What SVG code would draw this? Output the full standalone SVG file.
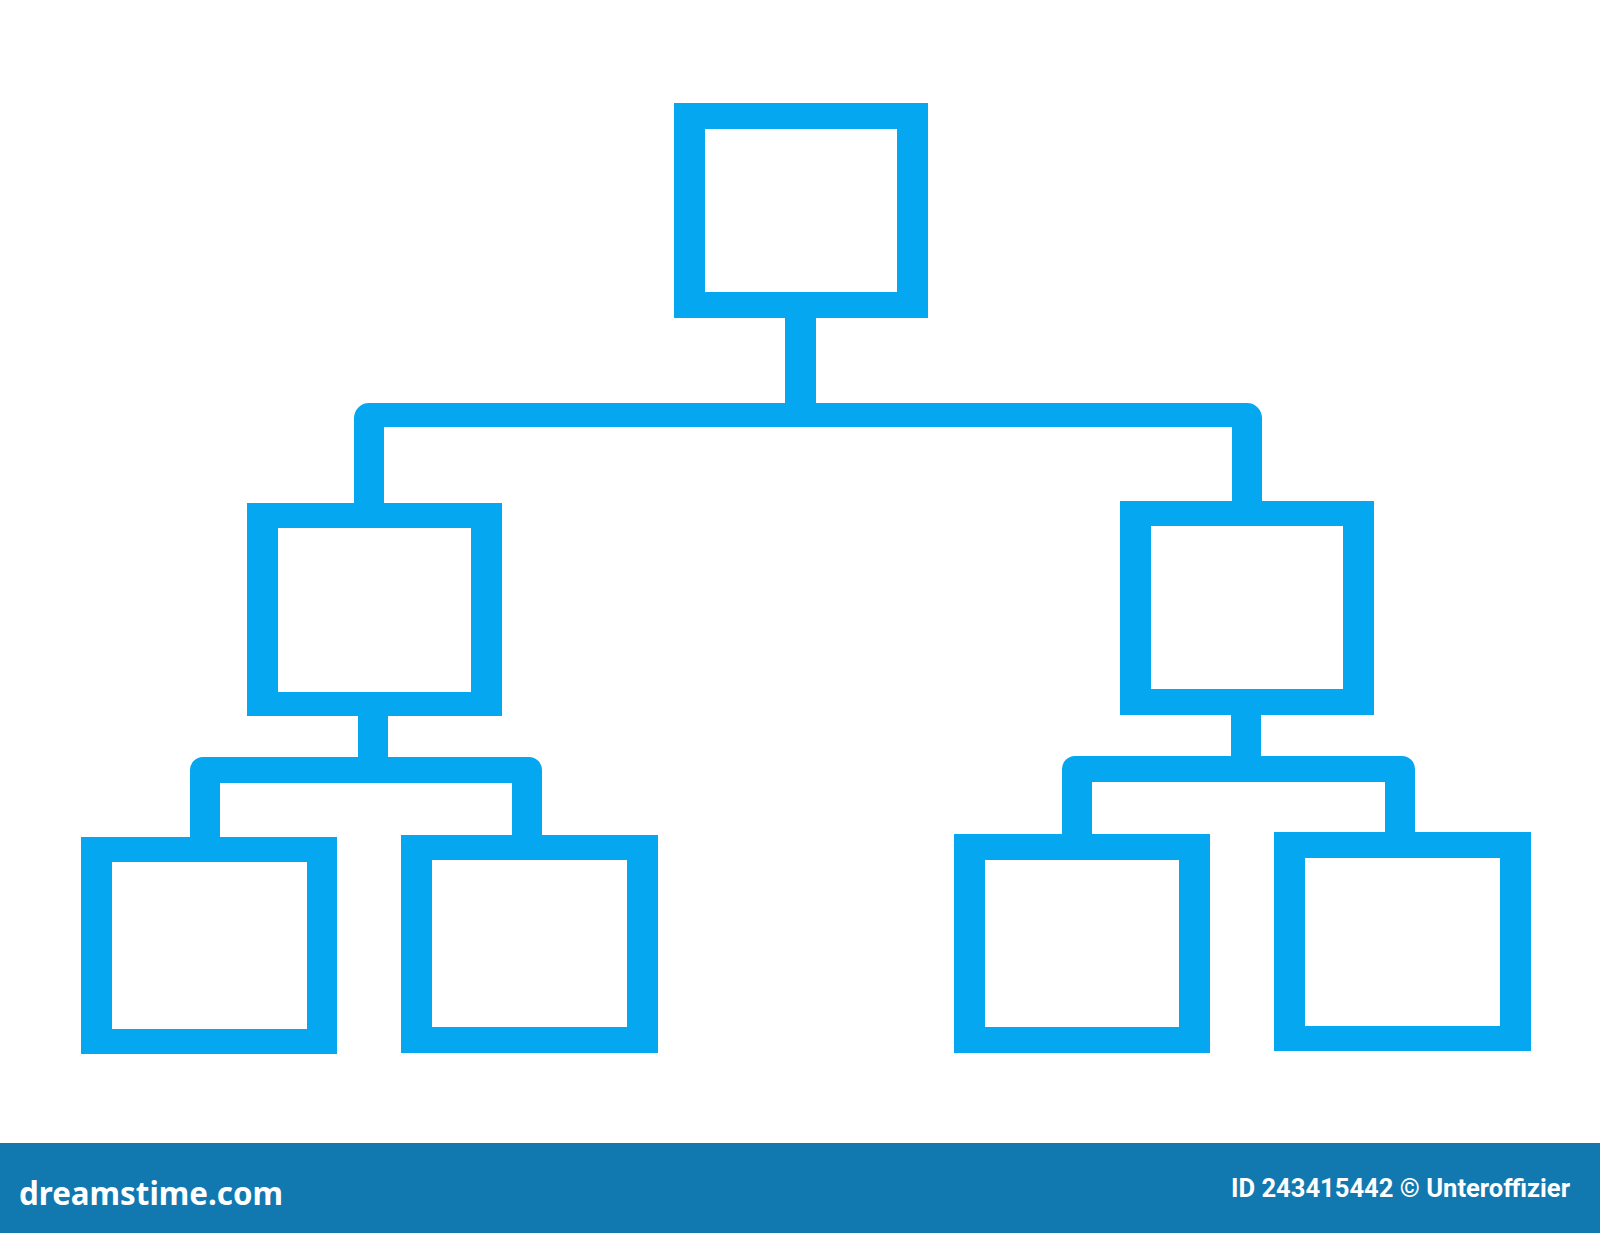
<svg xmlns="http://www.w3.org/2000/svg" width="1600" height="1233" viewBox="0 0 1600 1233">
<style>
.node{fill:#05a8f0;fill-rule:evenodd}
.conn{fill:#05a8f0}
.brand{font-family:"Noto Sans","DejaVu Sans",sans-serif;font-size:33px;font-weight:bold;fill:#ffffff}
.credit{font-family:Roboto,"Liberation Sans",sans-serif;font-size:26px;font-weight:bold;fill:#ffffff}
</style>
<rect x="0" y="0" width="1600" height="1233" fill="#ffffff"/>
<g id="connectors">
<rect class="conn" x="785" y="316" width="31" height="90"/>
<path class="conn" d="M354,505 L354,418 A15,15 0 0 1 369,403 L1247,403 A15,15 0 0 1 1262,418 L1262,503 L1232,503 L1232,427 L384,427 L384,505 Z"/>
<rect class="conn" x="358" y="714" width="30" height="46"/>
<path class="conn" d="M190,839 L190,770 A13,13 0 0 1 203,757 L529,757 A13,13 0 0 1 542,770 L542,837 L512,837 L512,783 L220,783 L220,839 Z"/>
<rect class="conn" x="1231" y="713" width="30" height="46"/>
<path class="conn" d="M1062,836 L1062,769 A13,13 0 0 1 1075,756 L1402,756 A13,13 0 0 1 1415,769 L1415,834 L1385,834 L1385,782 L1092,782 L1092,836 Z"/>
</g>
<g id="node-root"><path class="node" d="M674,103 H928 V318 H674 Z M705,129 V292 H897 V129 Z"/></g>
<g id="node-left"><path class="node" d="M247,503 H502 V716 H247 Z M278,528 V692 H471 V528 Z"/></g>
<g id="node-right"><path class="node" d="M1120,501 H1374 V715 H1120 Z M1151,526 V689 H1343 V526 Z"/></g>
<g id="node-left-a"><path class="node" d="M81,837 H337 V1054 H81 Z M112,862 V1029 H307 V862 Z"/></g>
<g id="node-left-b"><path class="node" d="M401,835 H658 V1053 H401 Z M432,860 V1027 H627 V860 Z"/></g>
<g id="node-right-a"><path class="node" d="M954,834 H1210 V1053 H954 Z M985,860 V1027 H1179 V860 Z"/></g>
<g id="node-right-b"><path class="node" d="M1274,832 H1531 V1051 H1274 Z M1305,858 V1026 H1500 V858 Z"/></g>
<g id="footer">
<rect x="0" y="1143" width="1600" height="90" fill="#1278b0"/>
<text class="brand" x="19" y="1205" textLength="264" lengthAdjust="spacingAndGlyphs">dreamstime.com</text>
<text class="credit" x="1231" y="1197" textLength="339" lengthAdjust="spacingAndGlyphs">ID 243415442 © Unteroffizier</text>
</g>
</svg>
